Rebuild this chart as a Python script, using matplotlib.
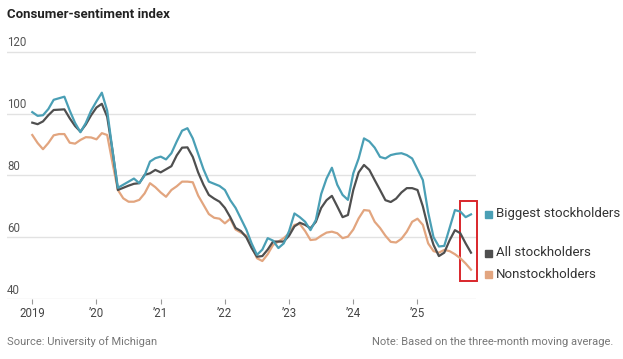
import matplotlib.pyplot as plt
from matplotlib.patches import Rectangle

plt.rcParams['font.family'] = ['Roboto', 'DejaVu Sans']

# monthly, Jan 2019 - Nov 2025 (three-month moving average)
biggest = [100.5, 99.3, 99.5, 101.5, 104.5, 105, 105.5, 101, 97, 94,
           97, 101, 104, 106.8, 101, 88, 76, 77, 78, 79,
           77.5, 80, 84.5, 85.6, 86.1, 85.2, 87.2, 91, 94.5, 95.3,
           92, 87, 82, 78, 77.3, 76.6, 75.3, 72, 69.5, 66,
           62.5, 58, 54.3, 56, 59.7, 58.9, 56.5, 58, 62, 67.7,
           66.5, 65, 62.3, 65.6, 74, 79, 82.5, 77, 73.7, 72.1,
           80.7, 85.5, 92, 91, 89, 86, 85.5, 86.6, 87, 87.2,
           86.6, 85.5, 82, 78.5, 68, 60, 57, 57.2, 63, 68.8,
           68.3, 66.5, 67.4]
all_stock = [97.1, 96.6, 97.5, 99.5, 101.2, 101.3, 101.4, 98.5, 96, 94.2,
             96.5, 99.5, 102, 103.2, 99, 88, 75.3, 76, 76.7, 77.3,
             77.5, 80.2, 80.7, 81.8, 81, 82, 83, 86.5, 89, 89.1,
             86, 81, 77, 73.7, 72.5, 71.5, 69.5, 66.5, 63, 62,
             60, 56.5, 53.7, 53.9, 56, 58.6, 58.6, 58.6, 60.5, 63.5,
             64.7, 64, 62.9, 65, 69.5, 72, 73.4, 70, 66.5, 67.2,
             75.3, 81, 83.4, 81.8, 78.5, 75.3, 72, 71.4, 72.5, 74.5,
             75.9, 75.9, 75.3, 70, 63, 57.5, 53.9, 55, 59, 62.3,
             61.3, 58, 55]
non_stock = [93.1, 90.5, 88.5, 90.5, 93, 93.4, 93.4, 90.6, 90.3, 91.5,
             92.4, 92.3, 91.7, 93.7, 93.1, 84, 75.3, 72.6, 71.5, 71.5,
             72.1, 74.2, 77.5, 76.2, 74.5, 73.1, 75.3, 76.5, 78, 78,
             77.8, 73.5, 70.5, 67.5, 66.3, 66, 64.5, 66, 62.5, 61.5,
             60.5, 57, 53.2, 52.3, 54.5, 57.5, 58.6, 59.7, 61.3, 64,
             64.3, 62, 59.1, 59.3, 60.5, 61.5, 61.8, 61.3, 59.7, 60.2,
             62.5, 66.1, 68.8, 68.6, 65, 63, 60.5, 58.5, 58.3, 59.5,
             61.8, 65, 66, 64, 58, 55.5, 55, 55.9, 55.5, 54.5,
             53.2, 51.5, 49.5]

year_ticks = [0, 12, 24, 36, 48, 60, 72]
year_labels = ['2019', '’20', '’21', '’22', '’23', '’24', '’25']
y_ticks = [40, 60, 80, 100, 120]

teal = '#4a9fb5'
dark = '#4f4f4f'
orange = '#e2a57f'

fig = plt.figure(figsize=(6.23, 3.59), dpi=100)
ax = fig.add_axes([0.0112, 0.1671, 0.7528, 0.7055])

x = list(range(len(biggest)))
ax.plot(x, non_stock, color=orange, lw=1.6)
ax.plot(x, all_stock, color=dark, lw=1.6)
ax.plot(x, biggest, color=teal, lw=1.6)

ax.set_xlim(-4.73, 82.93)
ax.set_ylim(40, 122)

for v in y_ticks:
    ax.axhline(v, color='#e2e2e2', lw=1, zorder=0)
    ax.text(-4.73, v + 0.8, str(v), fontsize=8.3, color='#555555',
            ha='left', va='bottom')

ax.set_yticks([])
ax.set_xticks(year_ticks)
ax.set_xticklabels(year_labels, fontsize=8.3, color='#444444')
ax.tick_params(axis='x', length=3.5, width=0.8, color='#999999', pad=2)
for s in ax.spines.values():
    s.set_visible(False)

# red highlight box
ax.add_patch(Rectangle((79.9, 45.8), 3.2, 26.0, fill=False, ec='#d9262b',
                       lw=1.4, clip_on=False))

# legend
legend_items = [('Biggest stockholders', teal, 214),
                ('All stockholders', dark, 253),
                ('Nonstockholders', orange, 274)]
for name, col, ypx in legend_items:
    yf = 1 - ypx / 359
    fig.patches.append(Rectangle((485 / 623, yf - 3.5 / 359), 7 / 623, 7 / 359,
                                 transform=fig.transFigure, color=col))
    fig.text(496 / 623, yf, name, fontsize=9.5, color='#333333',
             ha='left', va='center')

fig.text(7 / 623, 1 - 15 / 359, 'Consumer-sentiment index', fontsize=9.5,
         fontweight='bold', color='#222222', ha='left', va='center')
fig.text(7 / 623, 1 - 342 / 359, 'Source: University of Michigan', fontsize=8,
         color='#777777', ha='left', va='center')
fig.text(613 / 623, 1 - 342 / 359, 'Note: Based on the three-month moving average.',
         fontsize=8, color='#777777', ha='right', va='center')

fig.savefig('out.png', dpi=100)
